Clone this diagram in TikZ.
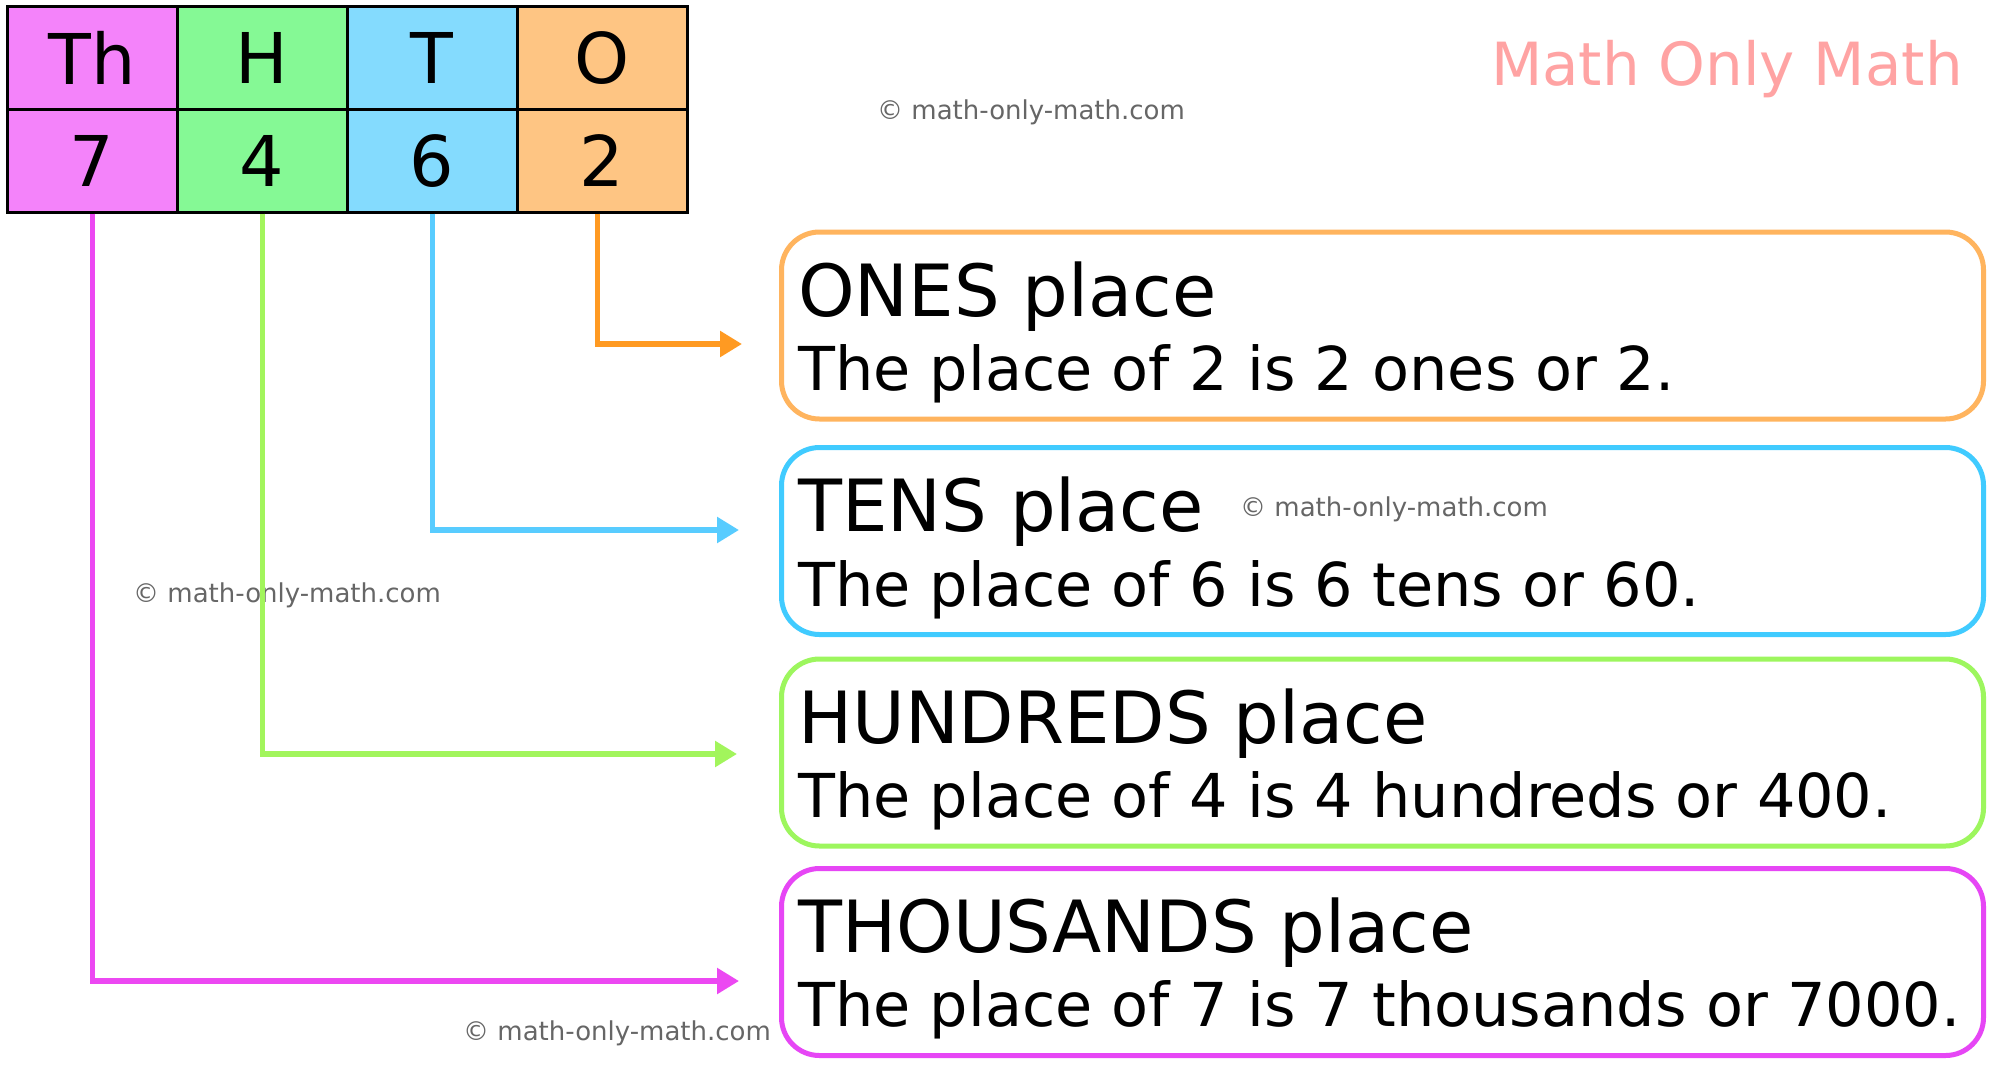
\documentclass[tikz,border=0pt]{standalone}
\usepackage{fontspec}
\setmainfont{DejaVu Sans}
\usetikzlibrary{arrows.meta}
\definecolor{cTh}{HTML}{F483FA}
\definecolor{cH}{HTML}{85F995}
\definecolor{cT}{HTML}{84DBFE}
\definecolor{cO}{HTML}{FEC583}
\definecolor{bO}{HTML}{FFB45E}
\definecolor{bT}{HTML}{40CBFF}
\definecolor{bH}{HTML}{9DF65E}
\definecolor{bTh}{HTML}{E646F5}
\definecolor{lO}{HTML}{FF9A22}
\definecolor{lT}{HTML}{58CCFF}
\definecolor{lH}{HTML}{A2F55C}
\definecolor{lTh}{HTML}{EC48F2}
\definecolor{brand}{HTML}{FFA3A3}
\definecolor{wmgray}{HTML}{666666}
\begin{document}
\begin{tikzpicture}[x=1pt,y=1pt,
  cell/.style={draw=black, line width=2.5pt, minimum width=170pt, minimum height=103pt,
    inner sep=0pt, anchor=north west, font=\fontsize{70}{80}\selectfont},
  placebox/.style={line width=5pt, rounded corners=38pt, minimum width=1202pt,
    minimum height=187pt, anchor=north west, inner sep=0pt},
  titletxt/.style={anchor=base west, inner sep=0pt, font=\fontsize{72}{80}\selectfont},
  subtxt/.style={anchor=base west, inner sep=0pt, font=\fontsize{60.5}{70}\selectfont},
  wm/.style={text=wmgray, anchor=west, inner sep=0pt, font=\fontsize{26}{30}\selectfont},
  conn/.style={line width=5.5pt, -{Triangle[length=22pt,width=25pt]}},
]
\fill[white] (0,0) rectangle (1999,-1069);
\useasboundingbox (0,0) rectangle (1999,-1069);

% table
\node[cell, fill=cTh] (th1) at (6,-5) {Th};
\node[cell, fill=cH]  (h1)  at (176,-5) {H};
\node[cell, fill=cT]  (t1)  at (346,-5) {T};
\node[cell, fill=cO]  (o1)  at (516,-5) {O};
\node[cell, fill=cTh] (th2) at (6,-108) {7};
\node[cell, fill=cH]  (h2)  at (176,-108) {4};
\node[cell, fill=cT]  (t2)  at (346,-108) {6};
\node[cell, fill=cO]  (o2)  at (516,-108) {2};

% brand and watermarks
\node[anchor=base east, inner sep=0pt, text=brand, font=\fontsize{59.5}{66}\selectfont] (brandtxt) at (1963,-85) {Math Only Math};
\node[wm] (wm1) at (877,-112) {© math-only-math.com};
\node[wm] (wm2) at (1240,-509) {© math-only-math.com};
\node[wm] (wm3) at (133,-595) {© math-only-math.com};
\node[wm] (wm4) at (463,-1033) {© math-only-math.com};

% place boxes
\node[placebox, draw=bO]  (ones)  at (779,-229.5) {};
\node[placebox, draw=bT]  (tens)  at (779,-445) {};
\node[placebox, draw=bH]  (hund)  at (779,-656.5) {};
\node[placebox, draw=bTh] (thou)  at (779,-866) {};

\node[titletxt] (onesT) at (798,-316) {ONES place};
\node[subtxt]   (onesS) at (798,-390) {The place of 2 is 2 ones or 2.};
\node[titletxt] (tensT) at (798,-531) {TENS place};
\node[subtxt]   (tensS) at (798,-606) {The place of 6 is 6 tens or 60.};
\node[titletxt] (hundT) at (798,-743) {HUNDREDS place};
\node[subtxt]   (hundS) at (798,-817) {The place of 4 is 4 hundreds or 400.};
\node[titletxt] (thouT) at (798,-952) {THOUSANDS place};
\node[subtxt]   (thouS) at (798,-1026) {The place of 7 is 7 thousands or 7000.};

% connectors
\coordinate (tipO)  at (742,-344);
\coordinate (tipT)  at (739,-530);
\coordinate (tipH)  at (737,-754);
\coordinate (tipTh) at (739,-981);
\draw[conn, color=lO] ([xshift=-5pt]o2.south) |- (tipO);
\draw[conn, color=lT] (t2.south) |- (tipT);
\draw[conn, color=lH] (h2.south) |- (tipH);
\draw[conn, color=lTh] (th2.south) |- (tipTh);
\end{tikzpicture}
\end{document}
